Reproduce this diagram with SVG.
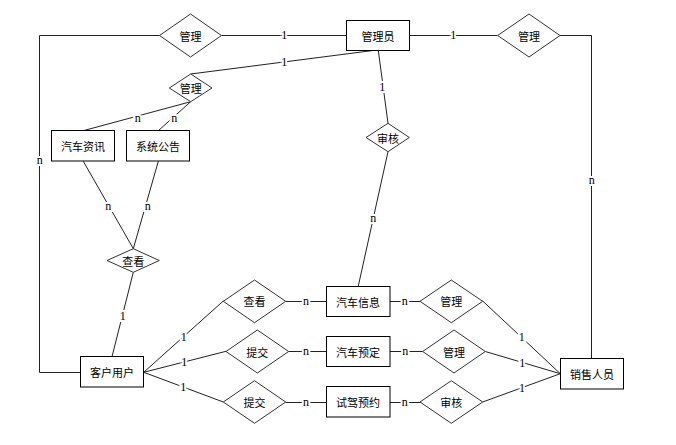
<svg xmlns="http://www.w3.org/2000/svg" width="676" height="445" viewBox="0 0 676 445">
<style>
.ent rect{fill:#fff;stroke:#000;stroke-width:1}
.rel polygon{fill:#fff;stroke:#333;stroke-width:1}
.ent text,.rel text{font-family:"Noto Sans CJK SC","Noto Sans CJK JP",sans-serif;font-size:11px;fill:#000;text-anchor:middle;dominant-baseline:central}
#connectors path{fill:none;stroke:#222;stroke-width:1}
.lbl{font-family:"Liberation Serif",serif;font-size:12px;fill:#000;text-anchor:middle;dominant-baseline:central;stroke:#fff;stroke-width:4;paint-order:stroke}
</style>
<rect width="676" height="445" fill="#fff"/>
<g id="connectors">
<path d="M159.5 35.5 H39.5 V372.5 H80.5"/>
<path d="M221.5 35.5 H346.5"/>
<path d="M409.5 35.5 H497.5"/>
<path d="M560 35.5 H591.5 V358.5"/>
<path d="M190.7 74 L373 50.5"/>
<path d="M190.7 101.7 L83.3 130.7"/>
<path d="M190.7 101.7 L158.3 130.7"/>
<path d="M83.3 161.3 L133.3 248.7"/>
<path d="M158.3 161.3 L133.3 248.7"/>
<path d="M133.3 272.3 L112 356.7"/>
<path d="M378.3 50.5 L388 123.3"/>
<path d="M388 151.7 L358.3 286"/>
<path d="M143.7 372.3 L223.3 301"/>
<path d="M143.7 372.3 L226 351.3"/>
<path d="M143.7 372.3 L223.3 402"/>
<path d="M285.7 301.5 H326"/>
<path d="M288.7 351.5 H326"/>
<path d="M285.7 402.5 H326"/>
<path d="M390 301.5 H420"/>
<path d="M390 351.5 H422.7"/>
<path d="M390 402.5 H420"/>
<path d="M482.7 301 L560.3 373.7"/>
<path d="M485.3 351.5 L560.3 373.7"/>
<path d="M482.7 402 L560.3 373.7"/>
</g>
<g id="labels">
<text class="lbl" x="39.7" y="160">n</text>
<text class="lbl" x="284.3" y="35">1</text>
<text class="lbl" x="453.3" y="35">1</text>
<text class="lbl" x="591.7" y="180">n</text>
<text class="lbl" x="284.3" y="62">1</text>
<text class="lbl" x="137.7" y="117.7">n</text>
<text class="lbl" x="174.3" y="117.7">n</text>
<text class="lbl" x="108.3" y="205.7">n</text>
<text class="lbl" x="147.7" y="205.7">n</text>
<text class="lbl" x="122.7" y="315.7">1</text>
<text class="lbl" x="382.3" y="87.3">1</text>
<text class="lbl" x="373.3" y="218">n</text>
<text class="lbl" x="183.7" y="337.3">1</text>
<text class="lbl" x="184.3" y="362.3">1</text>
<text class="lbl" x="183.3" y="386.7">1</text>
<text class="lbl" x="306" y="301">n</text>
<text class="lbl" x="306" y="351.3">n</text>
<text class="lbl" x="306" y="402">n</text>
<text class="lbl" x="404.7" y="301">n</text>
<text class="lbl" x="405.3" y="351.3">n</text>
<text class="lbl" x="404.7" y="402">n</text>
<text class="lbl" x="521.7" y="337.3">1</text>
<text class="lbl" x="522.3" y="363.3">1</text>
<text class="lbl" x="522" y="388.3">1</text>
</g>
<g id="admin" class="ent"><rect x="346.5" y="20.5" width="63" height="30"/><text x="378" y="35.5">管理员</text></g>
<g id="sales" class="ent"><rect x="560.5" y="358.5" width="63" height="30.5"/><text x="592" y="374">销售人员</text></g>
<g id="carnews" class="ent"><rect x="51.5" y="130.5" width="63" height="30.5"/><text x="83" y="146">汽车资讯</text></g>
<g id="notice" class="ent"><rect x="126.5" y="130.5" width="63" height="30.5"/><text x="158" y="146">系统公告</text></g>
<g id="customer" class="ent"><rect x="80.5" y="356.5" width="63" height="30.5"/><text x="112" y="372">客户用户</text></g>
<g id="carinfo" class="ent"><rect x="326.5" y="286.5" width="63.5" height="30"/><text x="358" y="301.5">汽车信息</text></g>
<g id="booking" class="ent"><rect x="326.5" y="336.5" width="63.5" height="30"/><text x="358" y="351.5">汽车预定</text></g>
<g id="testdrive" class="ent"><rect x="326.5" y="386.5" width="63.5" height="30.5"/><text x="358" y="402">试驾预约</text></g>
<g id="r_manage_top" class="rel"><polygon points="159.5,35.5 190.5,14 221.5,35.5 190.5,57"/><text x="190.5" y="35.5">管理</text></g>
<g id="r_manage_sales" class="rel"><polygon points="497.7,35.5 529,14 560,35.5 529,57"/><text x="529" y="35.5">管理</text></g>
<g id="r_manage_small" class="rel"><polygon points="169.3,88 190.7,74 212,88 190.7,101.7"/><text x="190.7" y="88">管理</text></g>
<g id="r_view_small" class="rel"><polygon points="107,260.5 133.3,248.7 159.3,260.5 133.3,272.3"/><text x="133.3" y="260.5">查看</text></g>
<g id="r_audit_small" class="rel"><polygon points="366,137.5 388,123.3 409.3,137.5 388,151.7"/><text x="388" y="137.5">审核</text></g>
<g id="r_view" class="rel"><polygon points="223.3,301.3 254.5,280 285.7,301.3 254.5,322.7"/><text x="254.5" y="301.3">查看</text></g>
<g id="r_submit1" class="rel"><polygon points="226,351.5 257.3,330 288.7,351.5 257.3,373"/><text x="257.3" y="351.5">提交</text></g>
<g id="r_submit2" class="rel"><polygon points="223.3,402 254.5,380.7 285.7,402 254.5,423.3"/><text x="254.5" y="402">提交</text></g>
<g id="r_manage_info" class="rel"><polygon points="420,301.3 451.3,280 482.7,301.3 451.3,322.7"/><text x="451.3" y="301.3">管理</text></g>
<g id="r_manage_book" class="rel"><polygon points="422.7,351.5 454,330 485.3,351.5 454,373"/><text x="454" y="351.5">管理</text></g>
<g id="r_audit" class="rel"><polygon points="420,402 451.3,380.7 482.7,402 451.3,423.3"/><text x="451.3" y="402">审核</text></g>
</svg>
